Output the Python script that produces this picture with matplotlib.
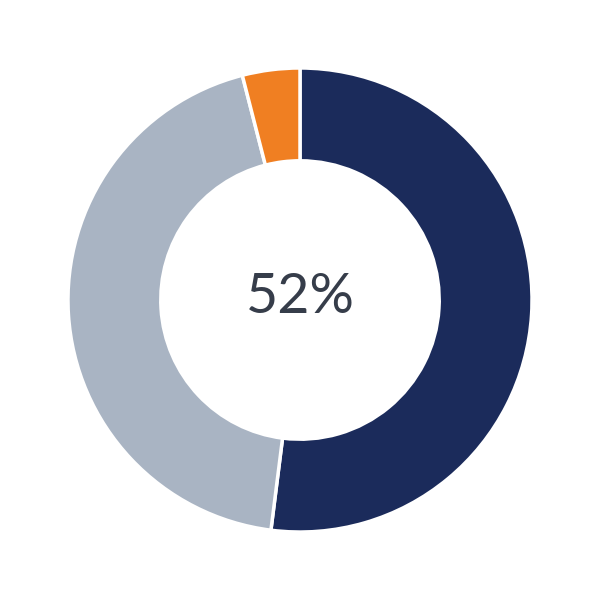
import matplotlib
matplotlib.use("Agg")
import matplotlib.pyplot as plt

# data
labels = ["Yes", "No", "Unsure"]
values = [52, 44, 4]
colors = ["#1b2b5b", "#a9b4c3", "#f07f22"]
center_label = "52%"

fig = plt.figure(figsize=(6, 6), dpi=100)
ax = fig.add_axes([0, 0, 1, 1])

ax.pie(values, colors=colors, startangle=90, counterclock=False,
       radius=1.0, wedgeprops=dict(width=0.4, edgecolor="white", linewidth=2.5))

ax.text(0, 0.01, center_label, ha="center", va="center", fontsize=40,
        color="#363d4a", family="Lato", fontweight="normal")

ax.set_xlim(-1.293, 1.293)
ax.set_ylim(-1.293, 1.293)
ax.set_aspect("equal")
ax.axis("off")

fig.savefig("out.png", dpi=100, facecolor="white")
